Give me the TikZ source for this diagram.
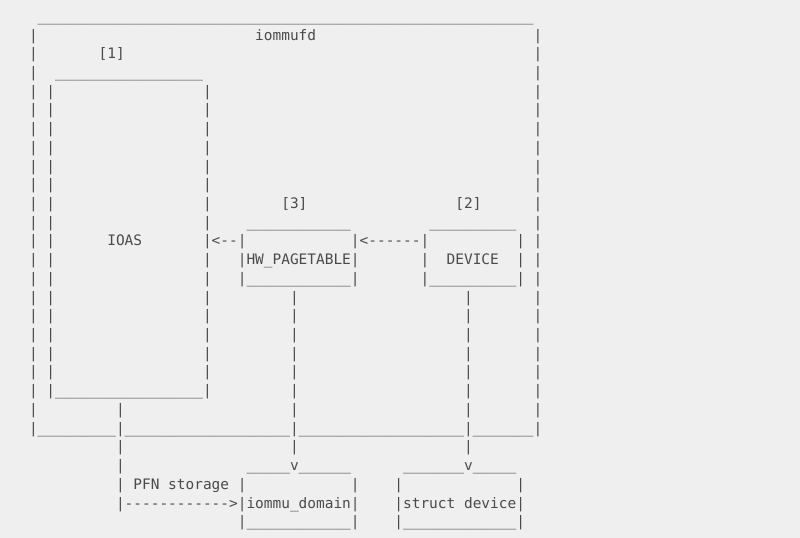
\documentclass[tikz,border=0pt]{standalone}
\usepackage{fontspec}
\setmonofont{DejaVu Sans Mono}
\ExplSyntaxOn
\cs_new:Npn \myRep #1#2 { \prg_replicate:nn {#1} {#2} }
\ExplSyntaxOff
\newcommand\myS[1]{\myRep{#1}{\ }}
\newcommand\myU[1]{\myRep{#1}{\_}}
\newcommand\myD[1]{\myRep{#1}{-{}}}
\definecolor{bg}{HTML}{EFEFEF}
\definecolor{ink}{HTML}{4A4A4A}
\tikzset{
  asciirow/.style={anchor=base west, inner sep=0pt, outer sep=0pt,
    font=\ttfamily\fontsize{10.84}{13}\selectfont, text=ink}
}
\newcommand\rowy[1]{21.3+18.72*#1}
\begin{document}
\begin{tikzpicture}[x=0.75pt,y=-0.75pt]
\fill[bg] (0,0) rectangle (800,538);
\useasboundingbox (0,0) rectangle (800,538);
\node[asciirow] (r0) at (29,{\rowy{0}}) {\myS1\myU{57}};
\node[asciirow] (r1) at (29,{\rowy{1}}) {|\myS{25}iommufd\myS{25}|};
\node[asciirow] (r2) at (29,{\rowy{2}}) {|\myS7[1]\myS{47}|};
\node[asciirow] (r3) at (29,{\rowy{3}}) {|\myS2\myU{17}\myS{38}|};
\foreach \r in {4,...,9}
  \node[asciirow] (r\r) at (29,{\rowy{\r}}) {|\myS1|\myS{17}|\myS{37}|};
\node[asciirow] (r10) at (29,{\rowy{10}}) {|\myS1|\myS{17}|\myS8[3]\myS{17}[2]\myS6|};
\node[asciirow] (r11) at (29,{\rowy{11}}) {|\myS1|\myS{17}|\myS4\myU{12}\myS9\myU{10}\myS2|};
\node[asciirow] (r12) at (29,{\rowy{12}}) {|\myS1|\myS6IOAS\myS7|<\myD2|\myS{12}|<\myD6|\myS{10}|\myS1|};
\node[asciirow] (r13) at (29,{\rowy{13}}) {|\myS1|\myS{17}|\myS3|HW\_PAGETABLE|\myS7|\myS2DEVICE\myS2|\myS1|};
\node[asciirow] (r14) at (29,{\rowy{14}}) {|\myS1|\myS{17}|\myS3|\myU{12}|\myS7|\myU{10}|\myS1|};
\foreach \r in {15,...,19}
  \node[asciirow] (r\r) at (29,{\rowy{\r}}) {|\myS1|\myS{17}|\myS9|\myS{19}|\myS7|};
\node[asciirow] (r20) at (29,{\rowy{20}}) {|\myS1|\myU{17}|\myS9|\myS{19}|\myS7|};
\node[asciirow] (r21) at (29,{\rowy{21}}) {|\myS9|\myS{19}|\myS{19}|\myS7|};
\node[asciirow] (r22) at (29,{\rowy{22}}) {|\myU9|\myU{19}|\myU{19}|\myU7|};
\node[asciirow] (r23) at (29,{\rowy{23}}) {\myS{10}|\myS{19}|\myS{19}|};
\node[asciirow] (r24) at (29,{\rowy{24}}) {\myS{10}|\myS{14}\myU5v\myU6\myS6\myU7v\myU5};
\node[asciirow] (r25) at (29,{\rowy{25}}) {\myS{10}|\myS1PFN\ storage\myS1|\myS{12}|\myS4|\myS{13}|};
\node[asciirow] (r26) at (29,{\rowy{26}}) {\myS{10}|\myD{12}>|iommu\_domain|\myS4|struct\ device|};
\node[asciirow] (r27) at (29,{\rowy{27}}) {\myS{24}|\myU{12}|\myS4|\myU{13}|};
\end{tikzpicture}
\end{document}
